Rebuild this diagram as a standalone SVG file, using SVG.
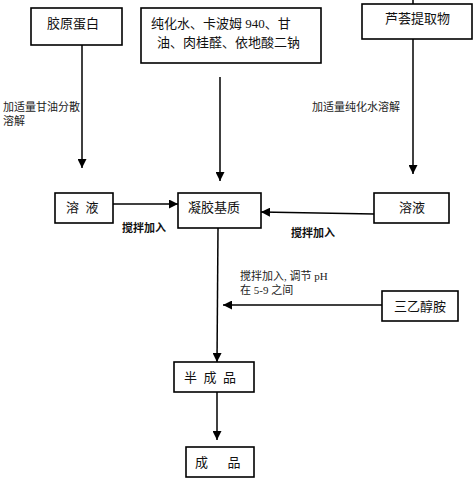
<svg xmlns="http://www.w3.org/2000/svg" width="474" height="479" viewBox="0 0 474 479">
<defs>
<marker id="ah" markerUnits="userSpaceOnUse" markerWidth="9" markerHeight="9" viewBox="0 0 10 10" refX="10" refY="5" orient="auto">
<path d="M0,0 L10,5 L0,10 z" fill="#000"/>
</marker>
<style>
.box{fill:#fff;stroke:#000;stroke-width:1.6}
.t{font-family:"Liberation Serif","Noto Sans CJK SC",serif;font-size:13px;fill:#111}
.l{font-family:"Liberation Serif","Noto Sans CJK SC",serif;font-size:11px;fill:#222}
.b{font-family:"Liberation Sans","Noto Sans CJK SC",sans-serif;font-size:11px;font-weight:bold;fill:#111}
.c{stroke:#000;stroke-width:1.5;fill:none}
</style>
</defs>
<rect width="474" height="479" fill="#fff"/>
<g id="connectors">
<line class="c" x1="82" y1="45" x2="82" y2="168" marker-end="url(#ah)"/>
<line class="c" x1="220" y1="77" x2="220" y2="181" marker-end="url(#ah)"/>
<line class="c" x1="413" y1="39" x2="413" y2="174" marker-end="url(#ah)"/>
<line class="c" x1="413" y1="0" x2="413" y2="4"/>
<line class="c" x1="113" y1="204" x2="178" y2="204" marker-end="url(#ah)"/>
<line class="c" x1="374" y1="214" x2="261" y2="212" marker-end="url(#ah)"/>
<line class="c" x1="218" y1="228" x2="217" y2="362" marker-end="url(#ah)"/>
<line class="c" x1="382" y1="305" x2="223" y2="305" marker-end="url(#ah)"/>
<line class="c" x1="217" y1="392" x2="217" y2="440" marker-end="url(#ah)"/>
<text class="l" x="3" y="111">加适量甘油分散</text>
<text class="l" x="3" y="125">溶解</text>
<text class="l" x="312" y="111">加适量纯化水溶解</text>
<text class="b" x="122" y="232">搅拌加入</text>
<text class="b" x="291" y="237">搅拌加入</text>
<text class="l" x="240" y="280">搅拌加入, 调节 pH</text>
<text class="l" x="240" y="294">在 5-9 之间</text>
</g>
<g id="n1"><rect class="box" x="31" y="8" width="91" height="37"/><text class="t" x="47" y="28">胶原蛋白</text></g>
<g id="n2"><rect class="box" x="141" y="8" width="180" height="55"/><text class="t" x="151" y="28">纯化水、卡波姆 940、甘</text><text class="t" x="157" y="47">油、肉桂醛、依地酸二钠</text></g>
<g id="n3"><rect class="box" x="362" y="4" width="110" height="35"/><text class="t" x="385" y="23">芦荟提取物</text></g>
<g id="n4"><rect class="box" x="55" y="193" width="58" height="30"/><text class="t" x="66" y="212" xml:space="preserve">溶  液</text></g>
<g id="n5"><rect class="box" x="178" y="193" width="83" height="35"/><text class="t" x="188" y="212">凝胶基质</text></g>
<g id="n6"><rect class="box" x="374" y="193" width="75" height="30"/><text class="t" x="399" y="212">溶液</text></g>
<g id="n7"><rect class="box" x="382" y="291" width="76" height="30"/><text class="t" x="394" y="311">三乙醇胺</text></g>
<g id="n8"><rect class="box" x="174" y="362" width="80" height="30"/><text class="t" x="184" y="382" xml:space="preserve">半  成  品</text></g>
<g id="n9"><rect class="box" x="186" y="447" width="68" height="30"/><text class="t" x="195" y="467" xml:space="preserve">成      品</text></g>
</svg>
